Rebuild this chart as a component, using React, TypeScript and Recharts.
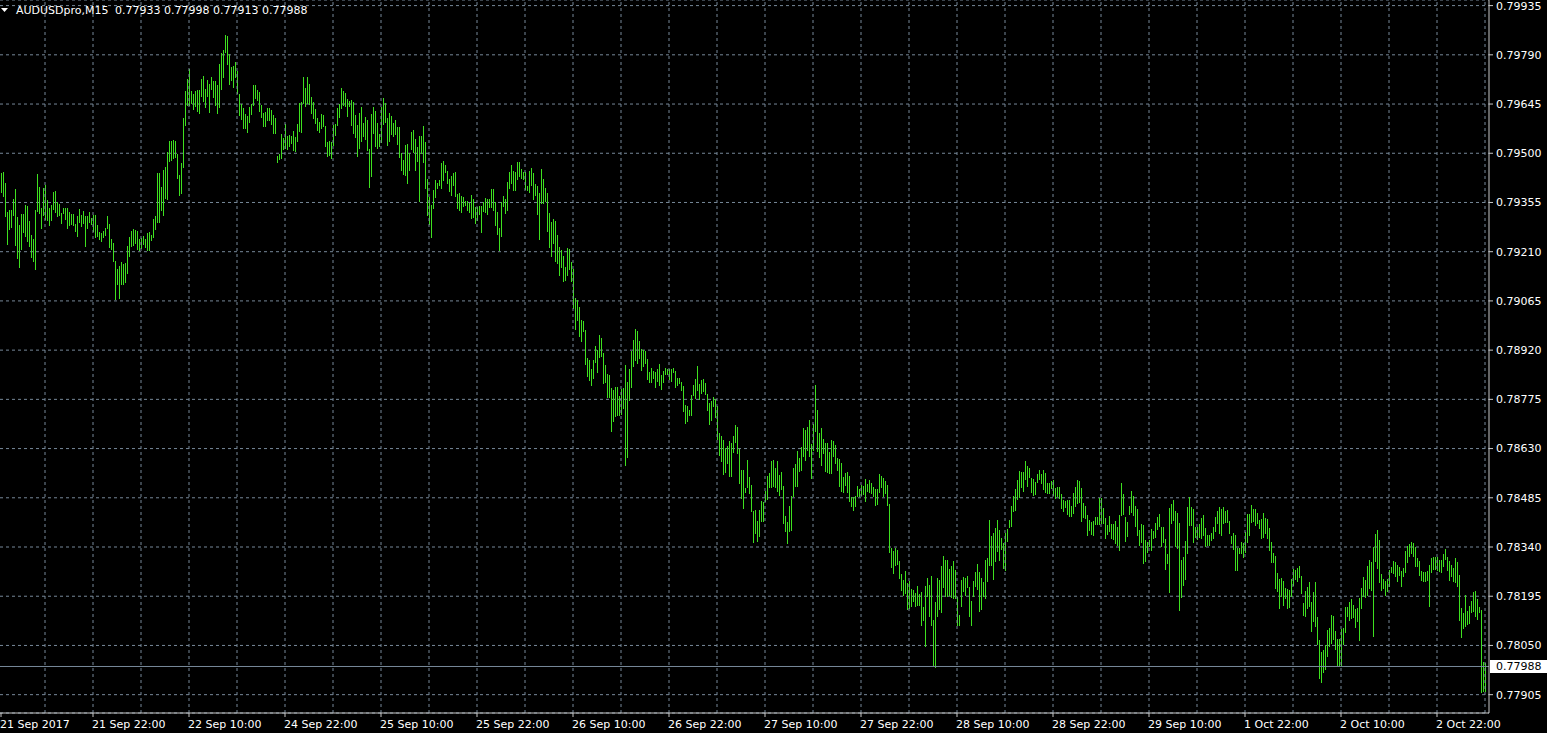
import React from "react";
import { ComposedChart, Bar, XAxis, YAxis, CartesianGrid, ReferenceLine } from "recharts";

// ---- data (prices in points, i.e. price × 100000) ----
const symbolName = "AUDUSDpro,M15";
const lastOpen = 0.77933;
const lastHigh = 0.77998;
const lastLow = 0.77913;
const lastClose = 0.77988;

const priceTicks = [0.77905, 0.7805, 0.78195, 0.7834, 0.78485, 0.7863, 0.78775, 0.7892, 0.79065, 0.7921, 0.79355, 0.795, 0.79645, 0.7979, 0.79935];
const priceDomain = [0.77851, 0.799515];

const timeTickIdx = [0, 46, 94, 142, 190, 238, 286, 334, 382, 430, 478, 526, 574, 622, 670, 718];
const timeTickText = ["21 Sep 2017", "21 Sep 22:00", "22 Sep 10:00", "24 Sep 22:00", "25 Sep 10:00", "25 Sep 22:00", "26 Sep 10:00", "26 Sep 22:00", "27 Sep 10:00", "27 Sep 22:00", "28 Sep 10:00", "28 Sep 22:00", "29 Sep 10:00", "1 Oct 22:00", "2 Oct 10:00", "2 Oct 22:00"];
const gridIdx = [22, 46, 70, 94, 118, 142, 166, 190, 214, 238, 262, 286, 310, 334, 358, 382, 406, 430, 454, 478, 502, 526, 550, 574, 598, 622, 646, 670, 694, 718, 742];

const highPts = [
79441,79445,79412,79328,79333,79333,79366,79395,79312,79289,
79321,79321,79348,79345,79299,79260,79248,79333,79439,79402,
79338,79399,79407,79363,79338,79348,79387,79389,79355,79350,
79323,79340,79338,79338,79327,79320,79320,79292,79314,79336,
79319,79330,79314,79314,79328,79309,79317,79317,79289,79269,
79265,79271,79281,79314,79292,79248,79235,79183,79160,79169,
79180,79174,79177,79227,79252,79272,79277,79274,79271,79247,
79249,79256,79247,79264,79269,79260,79306,79316,79441,79443,
79400,79451,79459,79505,79536,79536,79539,79536,79498,79436,
79470,79603,79683,79719,79748,79683,79675,79683,79687,79685,
79719,79728,79689,79716,79704,79724,79714,79714,79701,79763,
79795,79804,79849,79846,79792,79755,79757,79768,79743,79675,
79644,79632,79616,79611,79635,79644,79701,79701,79687,79680,
79642,79620,79621,79634,79634,79628,79613,79605,79493,79497,
79557,79544,79586,79551,79554,79551,79566,79547,79586,79647,
79650,79724,79693,79724,79704,79665,79650,79630,79605,79591,
79615,79612,79580,79534,79537,79534,79583,79586,79632,79645,
79691,79683,79678,79659,79654,79657,79650,79612,79583,79619,
79635,79588,79606,79598,79512,79615,79635,79624,79588,79556,
79637,79662,79647,79605,79620,79610,79588,79598,79578,79576,
79502,79480,79524,79526,79500,79563,79568,79542,79517,79552,
79551,79580,79534,79424,79372,79347,79391,79421,79413,79421,
79472,79477,79465,79447,79424,79433,79441,79444,79380,79384,
79375,79370,79360,79360,79353,79377,79366,79341,79343,79345,
79345,79356,79368,79365,79366,79395,79395,79356,79326,79279,
79356,79373,79365,79415,79444,79466,79448,79444,79474,79474,
79454,79444,79444,79404,79448,79456,79441,79410,79405,79382,
79454,79425,79397,79384,79323,79297,79307,79301,79260,79223,
79215,79198,79166,79222,79218,79181,79159,79075,79068,79048,
79009,79006,78980,78896,78891,78865,78891,78933,78921,78965,
78957,78911,78877,78850,78847,78809,78802,78810,78810,78785,
78805,78807,78876,78827,78864,78917,78950,78982,78976,78947,
78923,78920,78917,78894,78856,78866,78859,78856,78864,78879,
78847,78859,78868,78864,78864,78864,78868,78859,78837,78837,
78827,78814,78758,78755,78745,78788,78817,78835,78873,78820,
78832,78835,78822,78791,78765,78771,78781,78775,78755,78675,
78667,78655,78632,78637,78652,78647,78667,78699,78694,78630,
78567,78567,78513,78596,78545,78523,78446,78449,78417,78449,
78476,78474,78505,78549,78557,78593,78596,78574,78593,78552,
78560,78520,78431,78413,78462,78490,78574,78585,78623,78603,
78634,78690,78685,78695,78714,78643,78701,78817,78744,78675,
78690,78658,78647,78647,78621,78655,78652,78641,78603,78598,
78588,78547,78557,78562,78549,78488,78488,78490,78520,78511,
78523,78521,78540,78526,78537,78528,78518,78510,78511,78554,
78549,78544,78535,78523,78467,78336,78329,78336,78331,78299,
78260,78243,78269,78235,78241,78216,78212,78204,78225,78202,
78206,78164,78225,78250,78228,78255,78125,78177,78248,78243,
78284,78314,78302,78302,78275,78284,78300,78272,78194,78140,
78243,78253,78250,78256,78223,78181,78240,78266,78290,78265,
78250,78238,78302,78309,78420,78373,78382,78395,78420,78390,
78368,78351,78382,78393,78420,78461,78489,78511,78538,78564,
78560,78560,78594,78580,78574,78544,78541,78531,78554,78567,
78555,78567,78557,78528,78528,78535,78538,78515,78516,78516,
78496,78478,78476,78478,78478,78461,78498,78517,78537,78534,
78513,78471,78461,78434,78421,78414,78417,78427,78427,78485,
78485,78454,78424,78405,78431,78407,78407,78416,78400,78434,
78530,78496,78427,78414,78460,78505,78490,78460,78451,78390,
78409,78405,78360,78355,78362,78392,78388,78412,78429,78437,
78400,78400,78365,78319,78454,78468,78478,78446,78441,78412,
78301,78311,78357,78459,78486,78459,78452,78400,78400,78409,
78424,78434,78395,78375,78375,78382,78398,78427,78446,78457,
78452,78457,78446,78449,78417,78372,78380,78375,78336,78336,
78354,78351,78383,78437,78437,78464,78452,78452,78441,78420,
78423,78439,78426,78423,78395,78356,78321,78314,78263,78245,
78248,78240,78220,78216,78213,78246,78275,78272,78279,78284,
78255,78174,78210,78223,78236,78177,78207,78238,78135,78066,
78032,78037,78051,78096,78102,78140,78137,78094,78068,78068,
78097,78100,78164,78162,78177,78187,78169,78156,78159,78189,
78220,78253,78243,78285,78302,78295,78341,78378,78390,78361,
78260,78246,78240,78246,78272,78280,78299,78295,78287,78282,
78270,78279,78328,78343,78348,78354,78353,78341,78307,78300,
78270,78267,78267,78270,78287,78307,78310,78310,78310,78302,
78302,78318,78334,78311,78299,78287,78277,78307,78297,78258,
78159,78147,78199,78151,78166,78181,78206,78210,78186,78164,
78154,78002,77998
];

const lowPts = [
79384,79371,79311,79230,79274,79281,79314,79227,79189,79163,
79215,79266,79252,79239,79225,79191,79181,79156,79328,79320,
79277,79316,79302,79299,79287,79299,79333,79325,79311,79314,
79292,79320,79304,79277,79286,79289,79287,79269,79253,79296,
79282,79293,79225,79276,79296,79289,79269,79251,79253,79245,
79240,79250,79255,79276,79220,79215,79181,79068,79112,79071,
79112,79112,79117,79145,79194,79225,79228,79232,79215,79212,
79218,79230,79221,79213,79212,79242,79250,79274,79296,79294,
79331,79315,79364,79362,79473,79478,79483,79485,79424,79375,
79380,79458,79581,79639,79639,79644,79626,79635,79621,79616,
79665,79650,79634,79665,79620,79685,79664,79639,79616,79634,
79685,79721,79796,79760,79701,79714,79693,79723,79674,79611,
79598,79572,79572,79561,79590,79613,79639,79660,79654,79623,
79603,79578,79578,79596,79595,79583,79557,79557,79470,79480,
79482,79510,79513,79510,79517,79527,79507,79503,79532,79564,
79561,79645,79637,79645,79642,79615,79600,79586,79565,79561,
79570,79578,79519,79490,79493,79482,79521,79552,79581,79605,
79630,79640,79637,79608,79637,79581,79558,79544,79490,79512,
79532,79549,79539,79507,79398,79431,79558,79519,79514,79519,
79529,79583,79588,79522,79534,79555,79547,79554,79524,79487,
79448,79436,79434,79409,79447,79509,79502,79448,79475,79355,
79498,79472,79396,79316,79290,79251,79335,79369,79394,79404,
79396,79419,79441,79409,79385,79375,79404,79370,79335,79331,
79323,79341,79345,79331,79325,79306,79309,79291,79301,79317,
79266,79328,79325,79317,79340,79338,79331,79287,79258,79213,
79252,79343,79320,79331,79395,79410,79390,79390,79422,79429,
79424,79420,79392,79389,79384,79404,79361,79373,79317,79243,
79351,79350,79356,79267,79222,79194,79232,79179,79174,79137,
79163,79122,79125,79137,79155,79122,79041,78978,79007,78960,
78945,78973,78877,78840,78830,78813,78835,78882,78854,78896,
78901,78821,78823,78780,78780,78680,78709,78724,78726,78726,
78729,78748,78579,78603,78771,78809,78871,78889,78879,78893,
78858,78871,78879,78832,78824,78824,78835,78809,78827,78814,
78802,78824,78848,78848,78832,78825,78853,78809,78815,78819,
78799,78738,78702,78707,78727,78727,78785,78775,78800,78773,
78792,78797,78788,78740,78699,78711,78753,78721,78655,78609,
78589,78552,78557,78586,78547,78547,78618,78647,78614,78525,
78480,78452,78500,78513,78496,78444,78351,78378,78354,78370,
78413,78415,78472,78479,78513,78515,78518,78515,78501,78490,
78508,78407,78385,78349,78385,78387,78488,78518,78518,78560,
78565,78606,78594,78624,78604,78539,78623,78680,78619,78601,
78580,78614,78560,78559,78554,78554,78604,78584,78565,78518,
78503,78498,78521,78500,78474,78457,78447,78459,78488,78486,
78490,78493,78474,78503,78498,78496,78488,78462,78464,78498,
78513,78488,78495,78461,78323,78277,78260,78285,78287,78245,
78211,78196,78202,78154,78156,78164,78179,78162,78166,78166,
78108,78123,78044,78194,78135,78106,77988,77985,78135,78155,
78145,78218,78192,78194,78197,78189,78187,78187,78107,78106,
78164,78206,78196,78220,78135,78108,78194,78221,78214,78150,
78155,78194,78187,78236,78284,78285,78243,78297,78326,78299,
78331,78275,78268,78354,78397,78400,78442,78446,78479,78484,
78515,78503,78536,78518,78543,78498,78491,78493,78530,78538,
78525,78508,78498,78495,78495,78510,78491,78482,78486,78482,
78452,78442,78454,78434,78429,78429,78436,78459,78468,78471,
78414,78426,78422,78373,78387,78375,78373,78406,78406,78406,
78409,78409,78363,78375,78385,78363,78362,78348,78344,78329,
78432,78434,78355,78370,78434,78439,78431,78400,78373,78343,
78353,78290,78296,78323,78341,78328,78365,78367,78390,78400,
78341,78353,78272,78290,78205,78409,78417,78339,78334,78152,
78191,78226,78244,78319,78403,78402,78352,78368,78360,78368,
78365,78373,78339,78343,78344,78359,78363,78385,78408,78378,
78373,78408,78410,78412,78377,78349,78331,78270,78270,78318,
78319,78307,78321,78351,78373,78412,78413,78403,78407,78392,
78363,78366,78377,78364,78328,78294,78294,78215,78206,78156,
78194,78166,78186,78156,78159,78192,78226,78243,78238,78248,
78202,78137,78135,78156,78164,78091,78118,78105,78051,77951,
77940,77970,77978,78017,78045,78054,78066,78037,77988,77986,
77989,78051,78088,78135,78122,78128,78130,78100,78120,78064,
78156,78192,78191,78196,78216,78211,78076,78297,78274,78233,
78210,78216,78196,78208,78221,78262,78260,78253,78236,78255,
78223,78251,78264,78292,78312,78319,78312,78280,78282,78255,
78240,78238,78238,78240,78162,78262,78272,78272,78270,78267,
78262,78282,78302,78269,78240,78253,78238,78235,78221,78123,
78073,78097,78103,78110,78112,78145,78149,78135,78125,78145,
77909,77914,77913
];

const data = highPts.map((h, i) => ({ i, range: [lowPts[i] / 100000, h / 100000] }));

// ---- styles ----
const W = 1547;
const H = 733;
const GRID = "#778899";
const AXIS = "#c8c8c8";
const BAR = "#3ee01f";
const FONT = "'DejaVu Sans', sans-serif";

function BarShape(props: any) {
  const { x, y, width, height } = props;
  if (x == null || y == null) return null;
  const cx = Math.floor(x + width / 2);
  return <rect x={cx} y={y} width={1} height={Math.max(height, 1)} fill={BAR} shapeRendering="crispEdges" />;
}

function TimeTick(props: any) {
  const { x, y, payload } = props;
  const k = timeTickIdx.indexOf(payload.value);
  if (k < 0) return null;
  return (
    <text x={x - 1} y={y + 9} fill="#ffffff" fontSize={11} fontFamily={FONT} textAnchor="start">
      {timeTickText[k]}
    </text>
  );
}

function PriceTag(props: any) {
  const vb = props.viewBox || {};
  const right = (vb.x || 0) + (vb.width || 0);
  const y = vb.y || 0;
  return (
    <g>
      <rect x={right + 1} y={y - 6.5} width={57} height={13} fill="#ffffff" />
      <text x={right + 7} y={y} dy="0.36em" fill="#000000" fontSize={11} fontFamily={FONT}>
        {lastClose.toFixed(5)}
      </text>
    </g>
  );
}

export default function App() {
  return (
    <div style={{ position: "fixed", left: 0, top: 0, width: W, height: H, background: "#000000", overflow: "hidden" }}>
      <ComposedChart
        width={W}
        height={H}
        data={data}
        margin={{ top: 0, right: 0, bottom: 0, left: 0 }}
        barCategoryGap={0}
        barGap={0}
      >
        <CartesianGrid vertical={false} stroke={GRID} strokeDasharray="3 3" />
        {gridIdx.map((g) => (
          <ReferenceLine key={"g" + g} x={g} stroke={GRID} strokeDasharray="3 3" />
        ))}
        <XAxis
          dataKey="i"
          type="category"
          ticks={timeTickIdx}
          interval={0}
          height={20}
          padding={{ left: 0, right: 3 }}
          tickSize={4}
          tickMargin={2}
          axisLine={{ stroke: AXIS }}
          tickLine={{ stroke: AXIS }}
          tick={<TimeTick />}
        />
        <YAxis
          orientation="right"
          type="number"
          domain={priceDomain}
          allowDataOverflow
          ticks={priceTicks}
          interval={0}
          width={58}
          tickSize={4}
          tickMargin={3}
          axisLine={{ stroke: AXIS }}
          tickLine={{ stroke: AXIS }}
          tick={{ fill: "#ffffff", fontSize: 11, fontFamily: FONT }}
          tickFormatter={(v: number) => v.toFixed(5)}
        />
        <Bar dataKey="range" isAnimationActive={false} shape={<BarShape />} />
        <ReferenceLine y={lastClose} stroke={GRID} label={(p: any) => <PriceTag {...p} />} />
      </ComposedChart>
      <svg width={420} height={20} style={{ position: "absolute", left: 0, top: 0 }}>
        <polygon points="1,8 8,8 4.5,12" fill="#ffffff" />
        <text x={16} y={14} fill="#ffffff" fontSize={11} fontFamily={FONT}>{symbolName}</text>
        <text x={115} y={14} fill="#ffffff" fontSize={11} fontFamily={FONT}>
          {[lastOpen, lastHigh, lastLow, lastClose].map((v) => v.toFixed(5)).join(" ")}
        </text>
      </svg>
    </div>
  );
}
